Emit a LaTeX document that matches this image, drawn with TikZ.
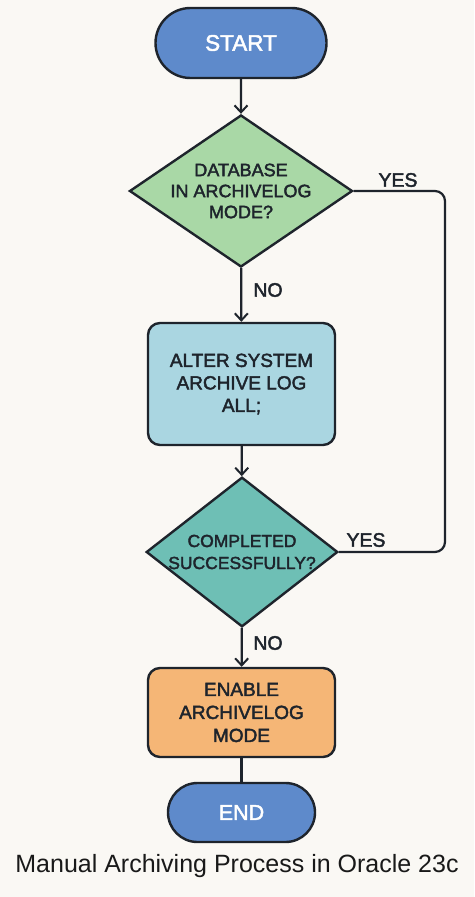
\documentclass[tikz,border=0pt]{standalone}
\usepackage{fontspec}
\setmainfont{Liberation Sans}
\newfontfamily\medfont[FakeBold=2.2]{Liberation Sans}
\usetikzlibrary{shapes.geometric,shapes.misc,arrows.meta}
\definecolor{bgc}{HTML}{FAF8F4}
\definecolor{linec}{HTML}{1E242C}
\definecolor{startc}{HTML}{5E8ACB}
\definecolor{greenc}{HTML}{A9D8A6}
\definecolor{bluec}{HTML}{AAD6E1}
\definecolor{tealc}{HTML}{6EBFB5}
\definecolor{orangec}{HTML}{F5B676}
\begin{document}
\begin{tikzpicture}[x=1pt,y=-1pt,
  every node/.style={text=linec},
  base/.style={draw=linec, line width=2.4pt, inner sep=0pt, align=center},
  term/.style={base, rounded rectangle, fill=startc, text=white, font=\medfont\fontsize{22.5}{26}\selectfont},
  decision/.style={base, diamond, font=\medfont\fontsize{18}{21}\selectfont},
  procbox/.style={base, rectangle, rounded corners=12pt, font=\medfont\fontsize{19}{22.5}\selectfont},
  conn/.style={draw=linec, line width=2.2pt},
  arr/.style={conn, -{Straight Barb[length=7pt,width=13pt,line width=2pt]}},
  lab/.style={font=\medfont\fontsize{19.5}{22}\selectfont, text=linec, inner sep=0pt}
]
\fill[bgc] (0,0) rectangle (474,897);
\useasboundingbox (0,0) rectangle (474,897);

\node[term, minimum width=171pt, minimum height=70pt] (start) at (241,43) {START};
\node[decision, fill=greenc, aspect=1.47, minimum width=223pt, minimum height=152pt] (d1) at (241,191) {DATABASE\\IN ARCHIVELOG\\MODE?};
\node[procbox, fill=bluec, minimum width=187pt, minimum height=122pt] (p1) at (241.5,384) {ALTER SYSTEM\\ARCHIVE LOG\\ALL;};
\node[decision, fill=tealc, aspect=1.28, minimum width=190pt, minimum height=148pt, font=\medfont\fontsize{17.5}{22}\selectfont] (d2) at (242,552) {COMPLETED\\SUCCESSFULLY?};
\node[procbox, fill=orangec, minimum width=187pt, minimum height=89pt, font=\medfont\fontsize{19}{23}\selectfont] (p2) at (241.5,712.5) {ENABLE\\ARCHIVELOG\\MODE};
\node[term, minimum width=147pt, minimum height=59pt, font=\medfont\fontsize{21.5}{25}\selectfont] (end) at (241.5,812.5) {END};

\coordinate (r1) at (445,191);
\coordinate (r2) at (445,552);

\draw[arr] (start) -- (d1);
\draw[arr] (d1) -- (p1);
\draw[arr] (p1) -- (d2);
\draw[arr] (d2) -- (p2);
\draw[conn] (p2) -- (end);
\draw[conn, rounded corners=10pt] (d1.east) -- (r1) -- (r2) -- (d2.east);

\node[lab] (yes1) at (398,180) {YES};
\node[lab] (no1) at (268,290) {NO};
\node[lab] (yes2) at (366,540) {YES};
\node[lab] (no2) at (268,643) {NO};

\node[font=\fontsize{25}{29}\selectfont, text=black!90] (cap) at (237,866) {Manual Archiving Process in Oracle 23c};
\end{tikzpicture}
\end{document}
